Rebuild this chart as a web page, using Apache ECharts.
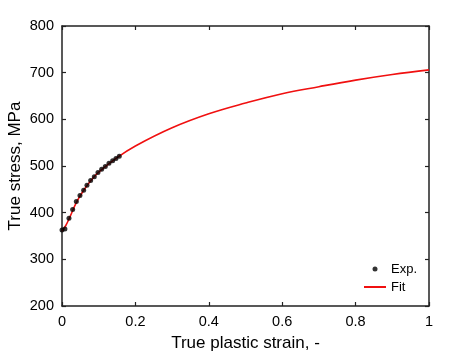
<!DOCTYPE html>
<html>
<head>
<meta charset="utf-8">
<script src="https://cdn.jsdelivr.net/npm/echarts@6/dist/echarts.min.js"></script>
<style>html,body{margin:0;padding:0;background:#fff;}#c{width:474px;height:355px;}</style>
</head>
<body>
<div id="c"></div>
<script>
// Experimental points (true plastic strain, true stress MPa)
const expStrain = [0, 0.008, 0.019, 0.029, 0.039, 0.049, 0.059, 0.068, 0.078, 0.088, 0.098, 0.108, 0.118, 0.128, 0.138, 0.147, 0.156];
const expStress = [363, 365, 388, 407, 424, 437, 448, 459, 469, 477, 486, 493, 499, 506, 511, 516, 521];
// Fit curve
const fitStrain = [0, 0.01, 0.02, 0.04, 0.06, 0.08, 0.10, 0.15, 0.2, 0.3, 0.4, 0.5, 0.6, 0.7, 0.8, 0.9, 1.0];
const fitStress = [360, 372, 388, 423, 449, 470, 487, 518, 543, 582, 612, 635, 655, 670, 684, 696, 706];
const xTicks = [0, 0.2, 0.4, 0.6, 0.8, 1];
const yTicks = [200, 300, 400, 500, 600, 700, 800];

const font = 'Liberation Sans, Arial, sans-serif';
const chart = echarts.init(document.getElementById('c'), null, {renderer: 'canvas'});
const axisLine = {show: true, onZero: false, lineStyle: {color: '#222', width: 1.5}};
const tick = {show: true, inside: true, length: 4, lineStyle: {color: '#222', width: 1.2}};
chart.setOption({
  animation: false,
  backgroundColor: '#fff',
  grid: {left: 62, right: 45, top: 26, bottom: 49, containLabel: false, outerBoundsMode: 'none'},
  legend: {
    left: 363, top: 262, orient: 'vertical', padding: 0,
    itemWidth: 22, itemHeight: 5, itemGap: 4,
    textStyle: {fontFamily: font, fontSize: 13, color: '#000', lineHeight: 14},
    data: [{name: 'Exp.', icon: 'circle'}, {name: 'Fit', itemStyle: {opacity: 0}}]
  },
  xAxis: [{
    type: 'value', min: xTicks[0], max: xTicks[xTicks.length - 1], interval: 0.2,
    name: 'True plastic strain, -', nameLocation: 'middle', nameGap: 29, nameMoveOverlap: false,
    nameTextStyle: {fontFamily: font, fontSize: 17, color: '#000'},
    axisLine: axisLine, axisTick: tick, splitLine: {show: false},
    axisLabel: {fontFamily: font, fontSize: 14.5, color: '#000', margin: 8}
  }, {
    type: 'value', position: 'top', min: 0, max: 1, interval: 0.2,
    axisLine: axisLine, axisTick: tick, axisLabel: {show: false}, splitLine: {show: false}
  }],
  yAxis: [{
    type: 'value', min: yTicks[0], max: yTicks[yTicks.length - 1], interval: 100,
    name: 'True stress, MPa', nameLocation: 'middle', nameGap: 38, nameMoveOverlap: false,
    nameTextStyle: {fontFamily: font, fontSize: 17, color: '#000'},
    axisLine: axisLine, axisTick: tick, splitLine: {show: false},
    axisLabel: {fontFamily: font, fontSize: 14.5, color: '#000', margin: 8}
  }, {
    type: 'value', position: 'right', min: 200, max: 800, interval: 100,
    axisLine: axisLine, axisTick: tick, axisLabel: {show: false}, splitLine: {show: false}
  }],
  series: [{
    name: 'Fit', type: 'line', smooth: 0.4, showSymbol: false, symbol: 'none',
    data: fitStrain.map((x, i) => [x, fitStress[i]]),
    lineStyle: {color: '#f01010', width: 1.6}, itemStyle: {color: '#f01010'}, z: 2
  }, {
    name: 'Exp.', type: 'scatter', symbol: 'circle', symbolSize: 5,
    data: expStrain.map((x, i) => [x, expStress[i]]),
    itemStyle: {color: '#000'}, z: 3
  }]
});
</script>
</body>
</html>
